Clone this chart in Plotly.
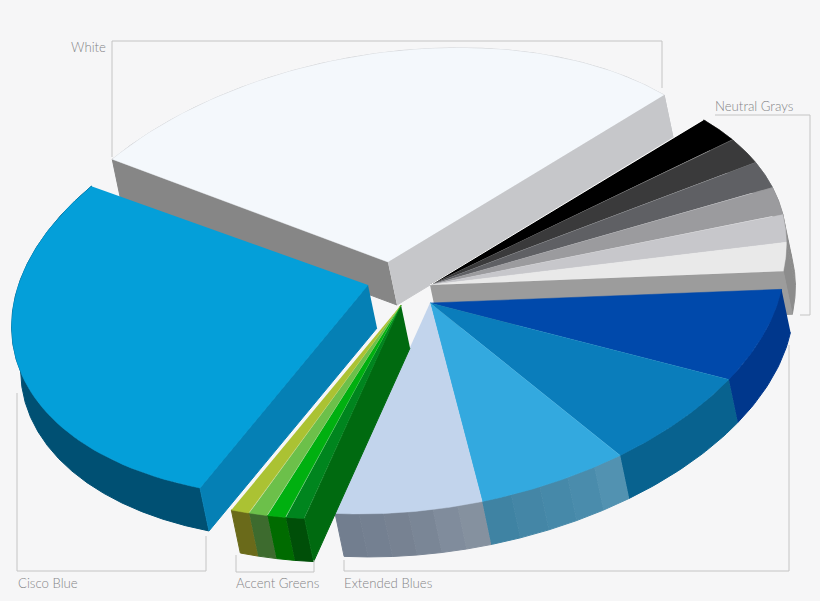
"""
plot.py

Exploded 3D pie of the colour palette shares, drawn as filled polygons.
Each slice is worked out from its share through a tilted-disc projection.
"""

import numpy as np
import plotly.graph_objects as go

# Shares in percent, clockwise from the white slice
WHITE = [27.8]
NEUTRAL_GRAYS = [2.2, 2.2, 2.2, 2.2, 2.2, 2.2]
EXTENDED_BLUES = [6.94, 6.94, 6.66, 6.66]
ACCENT_GREENS = [0.87, 0.87, 0.88, 0.88]
CISCO_BLUE = [28.05]

GROUP_NAMES = ["White", "Neutral Grays", "Extended Blues", "Accent Greens", "Cisco Blue"]
GROUP_VALUES = [WHITE, NEUTRAL_GRAYS, EXTENDED_BLUES, ACCENT_GREENS, CISCO_BLUE]

# Top and wall colours per slice
TOP_COLORS = {
    "White": ["#f4f8fc"],
    "Neutral Grays": ["#000000", "#3a3a3b", "#5f6064", "#9b9b9e", "#c7c7cb", "#e9e9e9"],
    "Extended Blues": ["#0049ab", "#0a7dbb", "#33a9df", "#c2d4ec"],
    "Accent Greens": ["#00851e", "#00b010", "#6cc04a", "#abc233"],
    "Cisco Blue": ["#049fd9"],
}
WALL_COLORS = {
    "White": [["#c6c7ca"]],
    "Neutral Grays": [["#8c8c8c"]] * 6,
    "Extended Blues": [
        ["#00378c"],
        ["#08628f"],
        ["#5292b1", "#4a8cac", "#4689a9", "#4486a6", "#3f83a3"],
        ["#85919f", "#808c9c", "#7a8696", "#778292", "#748091", "#727e8f"],
    ],
    "Accent Greens": [["#004f08"], ["#006b00"], ["#3d6b2e"], ["#6a6a1a"]],
    "Cisco Blue": [["#005073"]],
}
# Radial faces: (colour at the group start, colour at the group end)
FACE_COLORS = {
    "White": ("#868686", "#c6c7ca"),
    "Neutral Grays": (None, "#9c9c9c"),
    "Extended Blues": (None, None),
    "Accent Greens": ("#006a10", None),
    "Cisco Blue": ("#0580b5", None),
}

# Where each exploded group has its point on the page, and its radius scale
APEX = {
    "White": (388, 262),
    "Neutral Grays": (430, 285),
    "Extended Blues": (430, 303),
    "Accent Greens": (401, 305),
    "Cisco Blue": (368, 285),
}
RADIUS = {
    "White": 1.0,
    "Neutral Grays": 0.99,
    "Extended Blues": 0.985,
    "Accent Greens": 1.0,
    "Cisco Blue": 0.99,
}
START_ANGLE = 310
AXIS_U = np.array([360, -42])
AXIS_W = np.array([0, -210])
DEPTH = np.array([9, 43])

# Back to front
DRAW_ORDER = ["White", "Neutral Grays", "Cisco Blue", "Extended Blues", "Accent Greens"]

BACKGROUND = "#f6f6f7"
LEADER_COLOR = "#c4c4c4"
LABEL_COLOR = "#858587"
LABEL_FONT = "Lato"


def project(name, angles):
    """Maps clockwise disc angles (degrees, 0 = far side) to page positions."""
    rad = np.radians(angles)
    pts = np.outer(np.sin(rad), AXIS_U) + np.outer(np.cos(rad), AXIS_W)
    return pts * RADIUS[name] + np.array(APEX[name])


def polygon(fig, pts, color, width=1):
    fig.add_trace(go.Scatter(
        x=pts[:, 0],
        y=pts[:, 1],
        mode="lines",
        fill="toself",
        fillcolor=color,
        line=dict(color=color, width=width),
        hoverinfo="skip",
        showlegend=False,
    ))


def draw_wall(fig, name, a0, a1, shades):
    """Outer rim of a slice, split into equal stripes of slightly different shade."""
    edges = np.linspace(a0, a1, len(shades) + 1)
    for i, shade in enumerate(shades):
        arc = project(name, np.linspace(edges[i], edges[i + 1], 24))
        polygon(fig, np.vstack([arc, (arc + DEPTH)[::-1]]), shade)


def draw_face(fig, name, angle, color):
    """Radial cut of a slice, from the point out to the rim."""
    rim = project(name, [angle])[0]
    apex = np.array(APEX[name])
    polygon(fig, np.array([apex, rim, rim + DEPTH, apex + DEPTH]), color)


def slice_angles():
    """Cumulative start and end angle of every slice, per group."""
    angles = {}
    current = START_ANGLE
    for name, values in zip(GROUP_NAMES, GROUP_VALUES):
        spans = np.array(values) * 3.6
        ends = current + np.cumsum(spans)
        starts = np.concatenate([[current], ends[:-1]])
        angles[name] = list(zip(starts, ends))
        current = ends[-1]
    return angles


angles = slice_angles()
fig = go.Figure()

for name in DRAW_ORDER:
    spans = angles[name]

    for (a0, a1), shades in zip(spans, WALL_COLORS[name]):
        draw_wall(fig, name, a0, a1, shades)

    start_color, end_color = FACE_COLORS[name]
    if start_color:
        draw_face(fig, name, spans[0][0], start_color)
    if end_color:
        draw_face(fig, name, spans[-1][1], end_color)

    for (a0, a1), color in zip(spans, TOP_COLORS[name]):
        arc = project(name, np.linspace(a0, a1, 60))
        polygon(fig, np.vstack([[APEX[name]], arc]), color, width=0.5)

# Thin white edge between the white slice and the black one
edge = np.vstack([[APEX["Neutral Grays"]], project("Neutral Grays", [angles["Neutral Grays"][0][0]])])
fig.add_trace(go.Scatter(
    x=edge[:, 0], y=edge[:, 1], mode="lines",
    line=dict(color="#ffffff", width=1),
    hoverinfo="skip", showlegend=False,
))

# Leader lines around the groups
leaders = [
    ([112, 112, 662, 662], [157, 41, 41, 88]),
    ([715, 810, 810, 800], [115, 115, 315, 315]),
    ([17, 17, 206, 206], [393, 571, 571, 536]),
    ([236, 236, 314, 314], [555, 572, 572, 560]),
    ([344, 344, 789, 789], [560, 571, 571, 345]),
]
for xs, ys in leaders:
    fig.add_trace(go.Scatter(
        x=xs, y=ys, mode="lines",
        line=dict(color=LEADER_COLOR, width=1),
        hoverinfo="skip", showlegend=False,
    ))

labels = [
    ("White", 69, 47),
    ("Neutral Grays", 713, 106),
    ("Cisco Blue", 16, 583),
    ("Accent Greens", 234, 583),
    ("Extended Blues", 342, 583),
]
for text, x, y in labels:
    fig.add_annotation(
        x=x, y=y, text=text, showarrow=False, xanchor="left", yanchor="middle",
        font=dict(family=LABEL_FONT, size=13.2, color=LABEL_COLOR, weight=300),
    )

fig.update_layout(
    width=820,
    height=601,
    margin=dict(l=0, r=0, t=0, b=0),
    paper_bgcolor=BACKGROUND,
    plot_bgcolor=BACKGROUND,
    xaxis=dict(range=[0, 820], visible=False, fixedrange=True),
    yaxis=dict(range=[601, 0], visible=False, fixedrange=True),
)

fig.write_html("out.html", post_script="document.body.style.margin='0';", config={"displayModeBar": False})
